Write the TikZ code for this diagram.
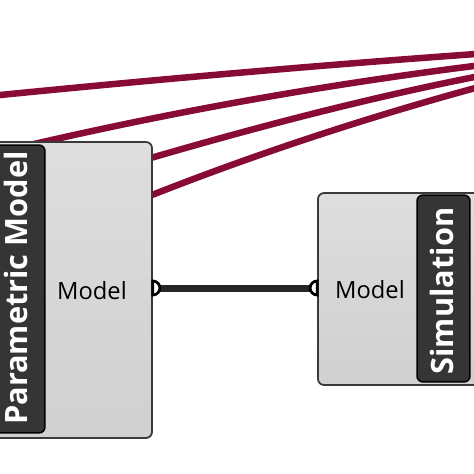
\documentclass[tikz,border=0pt]{standalone}
\usepackage{fontspec}
\setsansfont{Open Sans}

\definecolor{wirered}{HTML}{880A37}
\definecolor{wiredark}{HTML}{262626}
\definecolor{boxline}{HTML}{3A3A3A}
\definecolor{barfill}{HTML}{353535}
\definecolor{barlight}{HTML}{8A8A8A}
\definecolor{boxlow}{HTML}{C9C9C9}
\definecolor{boxmid}{HTML}{E2E2E2}
\definecolor{boxtop}{HTML}{F4F4F4}
\pgfdeclareverticalshading{boxshade}{100bp}{color(0bp)=(boxlow); color(90bp)=(boxmid); color(93bp)=(boxtop); color(100bp)=(boxtop)}
\pgfdeclareverticalshading{barshade}{100bp}{color(0bp)=(barfill); color(87bp)=(barfill); color(100bp)=(barlight)}

\begin{document}
\begin{tikzpicture}[x=0.02cm, y=-0.02cm]

\tikzstyle{comp}=[draw=boxline, line width=0.035cm, rounded corners=0.12cm, shading=boxshade, inner sep=0pt]
\tikzstyle{tag}=[draw=black, line width=0.03cm, rounded corners=0.12cm, shading=barshade, inner sep=0pt]
\tikzstyle{tagtext}=[text=white, font=\sffamily\bfseries\fontsize{17.5}{20}\selectfont, rotate=90]
\tikzstyle{param}=[font=\sffamily\fontsize{13.5}{16}\selectfont, text=black]
\tikzstyle{gene}=[draw=wirered, line width=0.13cm]
\tikzstyle{datawire}=[draw=wiredark, line width=0.14cm]
\tikzstyle{port}=[draw=black, fill=white, line width=0.055cm]

\clip (0,0) rectangle (474,474);
\fill[white] (0,0) rectangle (474,474);

% wires coming in from the left
\coordinate (s1) at (-20,97);  \coordinate (e1) at (490,53);
\coordinate (s2) at (0,152);   \coordinate (e2) at (490,64);
\coordinate (s3) at (100,173); \coordinate (e3) at (490,74);
\coordinate (s4) at (100,216); \coordinate (e4) at (490,84);
\draw[gene] (s1) .. controls (150,80) and (320,65) .. (e1);
\draw[gene] (s2) .. controls (163,113) and (327,84) .. (e2);
\draw[gene] (s3) .. controls (230,134) and (360,99) .. (e3);
\draw[gene] (s4) .. controls (230,162) and (360,119) .. (e4);

% components
\node[comp, minimum width=3.44cm, minimum height=5.92cm] (paramcomp) at (66,290) {};
\node[tag, minimum width=1.24cm, minimum height=5.76cm] (paramtag) at (14,289) {};
\node[tagtext] (paramname) at (16,288) {Parametric Model};
\node[param] (modelout) at (92,291) {Model};

\node[comp, minimum width=3.64cm, minimum height=3.84cm] (simcomp) at (409,289) {};
\node[tag, minimum width=1.06cm, minimum height=3.74cm] (simtag) at (443.5,288.5) {};
\node[tagtext] (simname) at (442,291) {Simulation};
\node[param] (modelin) at (370,290) {Model};

% model connection
\coordinate (pout) at (paramcomp.east |- 0,288);
\coordinate (pin) at (simcomp.west |- 0,288);
\draw[datawire] (pout) -- (pin);
\draw[port] ([yshift=-0.14cm]pout) arc[start angle=-90, end angle=90, radius=0.14cm] -- cycle;
\draw[port] ([yshift=0.14cm]pin) arc[start angle=90, end angle=270, radius=0.14cm] -- cycle;
\end{tikzpicture}
\end{document}
